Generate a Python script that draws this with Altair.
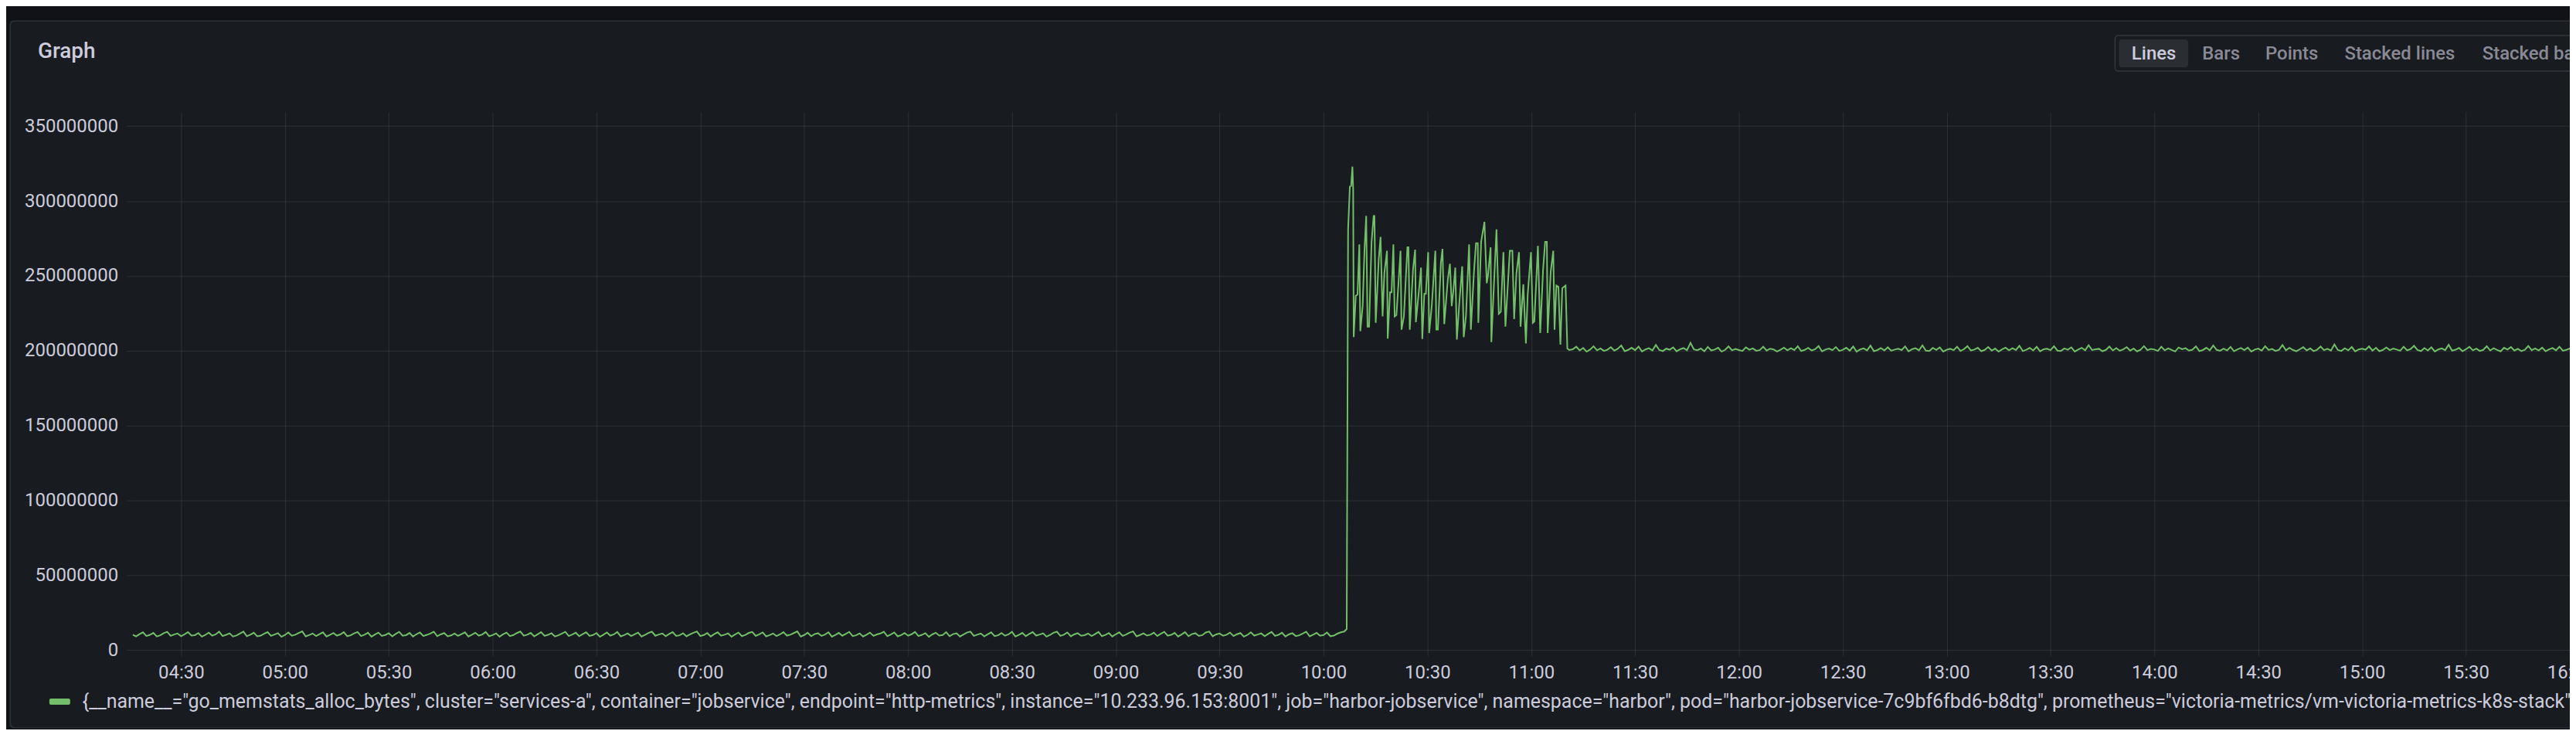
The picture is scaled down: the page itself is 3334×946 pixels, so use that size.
import altair as alt
import pandas as pd

# ---------------- data (values in MB) ----------------
baseline_mb = [
    10.2, 9.1, 10.6, 11.8, 9.3, 10.1, 11.4, 9.0, 9.8, 11.2, 12.1, 9.4, 10.3, 11.0, 9.2, 10.5, 11.9, 9.6, 9.9, 11.3, 8.9, 10.0, 11.6, 9.5, 10.4, 12.2, 9.3, 10.1, 11.1, 9.0,
    9.7, 11.0, 12.3, 9.2, 10.2, 11.5, 9.1, 9.6, 10.8, 11.9, 9.4, 10.3, 11.2, 8.8, 10.0, 11.7, 9.5, 10.2, 11.4, 12.4, 9.1, 9.9, 11.0, 9.3, 10.6, 11.8, 9.0, 10.1, 11.3, 9.6,
    10.4, 11.9, 9.2, 9.8, 11.1, 12.0, 9.3, 10.2, 11.5, 8.9, 10.3, 11.6, 9.4, 10.0, 11.2, 9.1, 10.7, 12.1, 9.5, 9.9, 11.4, 9.0, 10.5, 11.7, 9.3, 10.1, 11.0, 12.2, 9.2, 10.4,
    11.3, 9.1, 9.7, 11.0, 9.4, 10.6, 11.8, 9.0, 10.2, 11.5, 9.6, 10.3, 12.0, 9.2, 9.9, 11.1, 8.9, 10.4, 11.6, 9.3, 10.0, 11.3, 12.3, 9.5, 10.2, 11.4, 9.1, 10.5, 11.9, 9.4,
    10.1, 11.2, 9.0, 9.8, 11.0, 12.1, 9.3, 10.3, 11.5, 9.2, 10.6, 11.8, 9.4, 10.0, 11.3, 8.8, 10.2, 11.7, 9.6, 10.4, 12.0, 9.1, 9.9, 11.1, 9.3, 10.5, 11.6, 9.0, 10.1, 11.4,
    12.2, 9.5, 10.3, 11.0, 9.2, 10.7, 11.9, 9.4, 9.8, 11.2, 9.1, 10.4, 11.5, 12.3, 9.3, 10.0, 11.3, 9.0, 10.6, 11.8, 9.5, 10.2, 11.1, 8.9, 10.3, 11.6, 9.2, 10.1, 11.4, 12.0,
    9.4, 10.5, 11.7, 9.1, 9.9, 11.0, 9.3, 10.4, 11.9, 9.6, 10.2, 11.3, 12.4, 9.0, 10.0, 11.5, 9.2, 10.6, 11.2, 9.4, 10.3, 11.8, 8.9, 10.1, 11.4, 9.5, 10.7, 12.1, 9.3, 9.8,
    11.1, 9.0, 10.2, 11.6, 9.4, 10.4, 11.0, 12.2, 9.2, 10.3, 11.7, 9.1, 9.9, 11.3, 9.5, 10.5, 12.0, 9.3, 10.1, 11.2, 8.8, 10.4, 11.5, 9.6, 10.0, 11.9, 9.2, 10.6, 11.1, 9.0,
    10.3, 11.6, 12.3, 9.4, 10.2, 11.0, 9.1, 10.5, 11.8, 9.3, 9.8, 11.3, 9.5, 10.4, 12.1, 9.0, 10.1, 11.4, 9.2, 10.7, 11.9, 9.6, 10.3, 11.1, 8.9, 10.0, 11.5, 12.2, 9.4, 10.2,
    11.7, 9.1, 10.4, 11.2, 9.5, 9.9, 11.0, 9.3, 10.6, 12.0, 9.2, 10.1, 11.3, 9.0, 10.5, 11.8, 9.4, 10.3, 11.6, 12.4, 9.1, 10.0, 11.1, 9.6, 10.2, 11.5, 9.3, 10.8, 12.1, 9.5,
    10.1, 11.4, 9.0, 10.3, 11.9, 9.2, 10.6, 11.2, 9.4, 9.9, 11.7, 12.3, 9.1, 10.4, 11.0, 9.5, 10.2, 11.6, 9.3, 10.5, 11.3, 8.9, 10.0, 11.8, 9.6, 10.3, 11.1, 9.2, 10.7, 12.0,
    9.4, 10.1, 11.5, 9.0, 10.4, 11.2, 9.3, 9.8, 11.0, 12.2, 9.1, 10.2, 11.4, 9.5, 10.0, 11.7, 9.2, 9.6, 10.9, 11.8, 12.3,
]

# burst: minutes after 10:00 and values (MB)
burst_min = [
    6.70, 7.10, 7.61, 7.98, 8.35, 8.57, 8.72, 9.31, 9.83, 10.35, 10.64, 11.31, 11.83, 12.34, 12.71, 13.16,
    13.89, 14.49, 14.71, 15.08, 15.96, 16.48, 17.07, 17.59, 18.33, 18.55, 19.22, 19.66, 20.18, 20.55, 21.06,
    22.25, 22.54, 23.21, 24.24, 24.54, 24.91, 25.87, 26.46, 26.68, 27.64, 28.16, 28.53, 29.12, 29.56, 30.23,
    30.52, 31.26, 32.30, 32.59, 33.04, 33.92, 34.37, 34.89, 35.92, 36.51, 37.03, 37.55, 38.06, 38.51, 39.25,
    40.06, 40.50, 41.17, 42.05, 42.57, 43.46, 44.05, 44.57, 44.71, 45.53, 46.49, 47.15, 47.52, 48.26, 48.48,
    49.22, 49.96, 50.63, 51.22, 51.96, 52.55, 53.81, 54.55, 55.06, 55.73, 56.47, 56.91, 57.72, 58.46, 58.98,
    59.94, 60.46, 60.90, 61.94, 62.60, 63.41, 64.01, 64.52, 64.75, 65.63, 66.37, 66.74, 67.26, 67.85, 68.44,
    68.96, 69.92, 70.43,
]
burst_mb = [
    14.0, 281.0, 309.6, 310.0, 322.9, 308.0, 209.0, 236.6, 237.5, 271.0, 213.0, 230.0, 267.0, 290.0, 216.0, 216.0,
    272.7, 290.0, 290.0, 218.6, 261.5, 276.0, 222.8, 252.0, 266.7, 208.0, 239.0, 239.0, 271.0, 222.8, 223.7,
    266.7, 214.0, 222.8, 269.0, 269.0, 214.0, 254.6, 267.5, 219.0, 241.7, 255.5, 207.7, 238.0, 238.0, 265.8,
    211.7, 229.7, 266.7, 214.0, 214.0, 259.0, 268.0, 217.7, 247.8, 258.0, 229.7, 240.9, 255.5, 207.4, 232.3,
    256.3, 209.0, 223.7, 271.0, 214.0, 253.0, 271.8, 271.8, 218.6, 272.7, 286.0, 245.0, 250.3, 269.0, 205.7,
    243.5, 281.0, 224.6, 226.0, 265.8, 216.0, 266.7, 266.7, 221.0, 252.0, 265.8, 216.0, 244.3, 204.8, 237.5,
    265.8, 218.6, 219.5, 270.0, 211.7, 253.8, 272.7, 272.7, 211.7, 252.9, 266.7, 214.0, 243.5, 242.7, 204.0,
    241.7, 243.5, 201.4,
]

plateau_mb = [
    200.4, 200.9, 202.6, 200.1, 201.8, 199.3, 200.7, 202.9, 200.2, 201.5, 199.8, 200.6, 202.3, 200.0, 201.2, 203.4, 199.6, 200.5, 201.9, 200.3, 202.7, 199.4, 200.8, 201.6, 200.1, 203.8, 200.4, 199.7, 201.3, 200.6,
    202.1, 199.5, 200.9, 201.7, 200.2, 205.2, 200.8, 200.3, 201.4, 199.6, 202.5, 200.1, 200.7, 201.9, 199.3, 200.5, 202.8, 200.2, 201.1, 200.4, 199.8, 202.2, 200.6, 201.5, 199.9, 200.3, 202.6, 200.0, 201.3, 200.8,
    199.4, 200.6, 202.0, 200.2, 201.6, 200.4, 202.9, 199.7, 200.5, 201.8, 200.1, 200.9, 203.1, 199.5, 200.7, 201.4, 200.3, 202.4, 199.8, 200.6, 201.9, 200.0, 202.7, 199.3, 200.8, 201.5, 200.2, 203.3, 199.6, 200.4,
    201.7, 200.1, 202.2, 199.9, 200.7, 201.3, 200.4, 202.8, 199.5, 200.9, 201.6, 200.2, 203.5, 200.0, 199.7, 201.8, 200.5, 202.1, 199.4, 200.6, 201.2, 200.3, 202.6, 199.8, 201.0, 203.0, 200.1, 200.7, 201.9, 199.6,
    200.5, 202.4, 200.0, 201.4, 199.3, 200.8, 202.0, 200.2, 201.6, 200.4, 203.2, 199.7, 200.6, 201.8, 200.1, 202.5, 199.5, 200.9, 201.3, 200.3, 202.9, 200.0, 199.8, 201.5, 200.6, 202.2, 199.4, 200.7, 201.9, 200.2,
    203.6, 200.4, 200.9, 201.2, 199.6, 200.5, 202.7, 200.1, 201.7, 199.9, 200.8, 202.3, 200.0, 201.4, 199.5, 200.6, 203.0, 200.3, 201.1, 200.7, 199.8, 202.6, 200.2, 201.5, 200.4, 199.4, 202.1, 200.9, 201.6, 200.0,
    200.6, 202.8, 199.7, 200.4, 201.9, 200.2, 203.4, 200.5, 199.9, 201.3, 200.1, 202.5, 199.6, 200.8, 201.7, 200.3, 202.0, 199.4, 200.7, 201.4, 200.0, 202.9, 200.4, 201.1, 199.8, 200.6, 203.7, 200.2, 201.8, 200.5,
    199.5, 200.9, 202.3, 200.1, 201.5, 199.7, 200.6, 202.7, 200.3, 201.2, 200.0, 204.1, 200.4, 199.8, 201.6, 200.2, 202.4, 199.5, 200.8, 201.3, 200.6, 202.8, 200.0, 201.9, 199.6, 200.5, 202.1, 200.3, 201.4, 200.7,
    199.9, 202.6, 200.2, 201.0, 203.2, 200.4, 199.7, 201.7, 200.1, 202.2, 199.4, 200.8, 201.5, 200.3, 203.9, 200.0, 200.6, 201.8, 199.6, 200.9, 202.5, 200.2, 201.3, 199.8, 200.5, 202.9, 200.1, 201.6, 200.4, 199.5,
    201.9, 200.7, 202.4, 200.0, 201.2, 199.7, 200.6, 203.1, 200.3, 201.5, 200.1, 202.0, 199.6, 200.8, 201.7, 200.2, 202.6, 199.9, 200.5, 201.4,
    200.4, 202.3, 200.1, 201.0, 199.8,
]

x_tick_labels = ["04:30", "05:00", "05:30", "06:00", "06:30", "07:00", "07:30", "08:00", "08:30", "09:00",
                 "09:30", "10:00", "10:30", "11:00", "11:30", "12:00", "12:30", "13:00", "13:30", "14:00",
                 "14:30", "15:00", "15:30", "16:00"]
y_ticks = [0, 50000000, 100000000, 150000000, 200000000, 250000000, 300000000, 350000000]
button_labels = ["Lines", "Bars", "Points", "Stacked lines", "Stacked bars"]
panel_title = "Graph"
series_label = ('{__name__="go_memstats_alloc_bytes", cluster="services-a", container="jobservice", '
                'endpoint="http-metrics", instance="10.233.96.153:8001", job="harbor-jobservice", '
                'namespace="harbor", pod="harbor-jobservice-7c9bf6fbd6-b8dtg", '
                'prometheus="victoria-metrics/vm-victoria-metrics-k8s-stack", service="harbor-jobservice"}')

# ---------------- build table ----------------
DAY = "2024-01-15"
t_base = [pd.Timestamp(f"{DAY} 04:16") + pd.Timedelta(minutes=i) for i in range(len(baseline_mb))]
nb = min(len(burst_min), len(burst_mb))
t_burst = [(pd.Timestamp(f"{DAY} 10:00") + pd.Timedelta(minutes=m)).round("s") for m in burst_min[:nb]]
t_plat = [pd.Timestamp(f"{DAY} 11:11") + pd.Timedelta(minutes=i) for i in range(len(plateau_mb))]

df = pd.DataFrame({
    "time": t_base + t_burst + t_plat,
    "mb": baseline_mb + burst_mb[:nb] + plateau_mb,
})
df["bytes"] = df["mb"] * 1e6


def dt(hm):
    h, m = hm.split(":")
    return alt.DateTime(year=2024, month=1, date=15, hours=int(h), minutes=int(m))


# ---------------- styling ----------------
PANEL_BG = "#181b1f"
OUTER_BG = "#111217"
GRID = "rgba(204,204,220,0.12)"
TEXT = "#ccccdc"
TEXT2 = "rgba(204,204,220,0.65)"
GREEN = "#73BF69"
FONT = "Roboto"

W, H = 3162, 698
one = pd.DataFrame({"k": [0]})

line = alt.Chart(df).mark_line(color=GREEN, strokeWidth=2, clip=True).encode(
    x=alt.X("time:T", title="",
            scale=alt.Scale(domain=[dt("04:16"), dt("16:00")]),
            axis=alt.Axis(values=[dt(s) for s in x_tick_labels], format="%H:%M",
                          labelFont=FONT, labelFontSize=24, labelColor=TEXT, labelPadding=9,
                          labelFlush=False, labelOverlap=False,
                          tickSize=8, tickColor=GRID, tickWidth=1,
                          grid=True, gridColor=GRID, gridWidth=1, domain=False)),
    y=alt.Y("bytes:Q", title="",
            scale=alt.Scale(domain=[0, 359500000], nice=False, zero=True),
            axis=alt.Axis(values=y_ticks, format="d",
                          labelFont=FONT, labelFontSize=24, labelColor=TEXT, labelPadding=11,
                          tickSize=8, tickColor=GRID, tickWidth=1,
                          grid=True, gridColor=GRID, gridWidth=1, domain=False)),
)

layers = []

# outer page background strips (outside the panel)
layers.append(alt.Chart(one).mark_rect(color=OUTER_BG).encode(
    x=alt.value(-170), x2=alt.value(W + 10), y=alt.value(-140), y2=alt.value(-118)))
layers.append(alt.Chart(one).mark_rect(color=OUTER_BG).encode(
    x=alt.value(-170), x2=alt.value(-159), y=alt.value(-140), y2=alt.value(810)))
layers.append(alt.Chart(one).mark_rect(color=OUTER_BG).encode(
    x=alt.value(-170), x2=alt.value(W + 10), y=alt.value(799), y2=alt.value(810)))

# panel border
layers.append(alt.Chart(one).mark_rect(fillOpacity=0, stroke="rgba(204,204,220,0.14)",
                                       strokeWidth=1.5, cornerRadius=6).encode(
    x=alt.value(-159), x2=alt.value(W + 200), y=alt.value(-118), y2=alt.value(799)))

# panel title
layers.append(alt.Chart(one).mark_text(align="left", baseline="alphabetic", font=FONT,
                                       fontSize=28, fontWeight=500, color=TEXT).encode(
    x=alt.value(-123), y=alt.value(-70), text=alt.value(panel_title)))

# button group
layers.append(alt.Chart(one).mark_rect(fillOpacity=0, stroke="rgba(204,204,220,0.16)",
                                       strokeWidth=1.5, cornerRadius=4).encode(
    x=alt.value(2572), x2=alt.value(W + 200), y=alt.value(-99), y2=alt.value(-53)))
layers.append(alt.Chart(one).mark_rect(color="rgba(204,204,220,0.10)", cornerRadius=4).encode(
    x=alt.value(2577), x2=alt.value(2667), y=alt.value(-94), y2=alt.value(-58)))
button_x = [2593.5, 2685, 2767, 2869.7, 3048.4]
for i, (lab, bx) in enumerate(zip(button_labels, button_x)):
    layers.append(alt.Chart(one).mark_text(align="left", baseline="alphabetic", font=FONT,
                                           fontSize=24, fontWeight=500,
                                           color=TEXT if i == 0 else TEXT2).encode(
        x=alt.value(bx), y=alt.value(-68.3), text=alt.value(lab)))

# legend
layers.append(alt.Chart(one).mark_rect(color=GREEN, cornerRadius=2).encode(
    x=alt.value(-108), x2=alt.value(-81), y=alt.value(761), y2=alt.value(769)))
layers.append(alt.Chart(one).mark_text(align="left", baseline="alphabetic", font=FONT,
                                       fontSize=25, color=TEXT).encode(
    x=alt.value(-65), y=alt.value(773), text=alt.value(series_label)))

chart = alt.layer(line, *layers).properties(
    width=W, height=H,
    padding={"left": 164, "top": 136, "right": 0, "bottom": 102},
    autosize=alt.AutoSizeParams(type="none"),
    background=PANEL_BG,
).configure(font=FONT).configure_view(strokeWidth=0, stroke="transparent")

chart.save("out.html", embed_options={"renderer": "svg", "actions": False})
